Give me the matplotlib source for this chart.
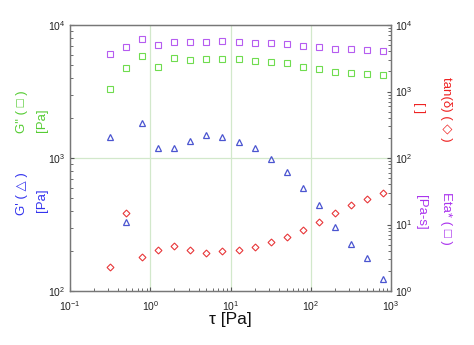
import numpy as np
import matplotlib
matplotlib.use('Agg')
import matplotlib.pyplot as plt

# shear stress tau [Pa]
tau = [0.316, 0.501, 0.794, 1.26, 2.0, 3.16, 5.01, 7.94, 12.6, 20.0,
       31.6, 50.1, 79.4, 126, 200, 316, 501, 794]

# G'' [Pa] (left axis)
g2 = [3300, 4720, 5880, 4860, 5620, 5430, 5550, 5580, 5520, 5390,
      5300, 5150, 4860, 4690, 4450, 4330, 4260, 4210]

# G' [Pa] (left axis)
g1 = [1445, 329, 1820, 1183, 1195, 1349, 1489, 1445, 1318, 1189,
      982, 785, 595, 441, 303, 224, 178, 124]

# tan(delta) [-] (right axis)
tand = [2.27, 14.7, 3.28, 4.18, 4.75, 4.14, 3.77, 3.95, 4.18, 4.63,
        5.40, 6.56, 8.18, 10.8, 14.7, 19.6, 24.2, 30.1]

# Eta* [Pa-s] (right axis)
eta = [3630, 4720, 6160, 5010, 5610, 5500, 5610, 5810, 5500, 5420,
       5310, 5130, 4890, 4620, 4400, 4310, 4210, 4110]

plt.rcParams['font.family'] = ['Liberation Sans', 'DejaVu Sans']
plt.rcParams['mathtext.default'] = 'regular'

W, H = 474, 345
fig = plt.figure(figsize=(W / 100, H / 100), dpi=100)
ax = fig.add_axes([70 / W, 1 - 291 / H, 321 / W, 266 / H])
ax2 = ax.twinx()

grid_c = '#d2e8cb'
for xv in [1, 10, 100]:
    ax.axvline(xv, color=grid_c, lw=0.9, zorder=0)
ax.axhline(1000, color=grid_c, lw=0.9, zorder=0)

ms = 3.8
ax.plot(tau, g2, 's', mfc='none', mec='#6fdc4f', mew=0.8, ms=ms)
ax.plot(tau, g1, '^', mfc='none', mec='#4b55d0', mew=0.9, ms=ms + 0.5)
ax2.plot(tau, tand, 'D', mfc='none', mec='#e8383a', mew=0.8, ms=ms - 0.3)
ax2.plot(tau, eta, 's', mfc='none', mec='#b65cf0', mew=0.8, ms=ms)

ax.set_xscale('log')
ax.set_yscale('log')
ax2.set_yscale('log')
ax.set_xlim(0.1, 1000)
ax.set_ylim(100, 10000)
ax2.set_ylim(1, 10000)

for a in (ax, ax2):
    for s in a.spines.values():
        s.set_color('#777777')
        s.set_linewidth(0.9)
    a.tick_params(which='both', direction='in', labelsize=7.5, colors='#555555',
                  labelcolor='#222222')
    a.tick_params(which='major', length=3)
    a.tick_params(which='minor', length=2)
ax.tick_params(axis='x', pad=6)
ax.tick_params(axis='y', which='both', right=False)
ax2.tick_params(axis='y', pad=3)

ax.set_xlabel('τ [Pa]', fontsize=12.5, labelpad=-1, color='#111111')

def ftext(x, y, s, c):
    fig.text(x / W, 1 - y / H, s, color=c, fontsize=9.5, rotation=90,
             ha='center', va='center')

ftext(22, 112, 'G" ( □ )', '#55cc33')
ftext(42, 120, '[Pa]', '#55cc33')
ftext(22, 194, "G' ( △ )", '#3333ee')
ftext(42, 200, '[Pa]', '#3333ee')

def rtext(x, y, s, c):
    fig.text(x / W, 1 - y / H, s, color=c, fontsize=9.5, rotation=-90,
             ha='center', va='center')

rtext(446, 109, 'tan(δ) ( ◇ )', '#ee2222')
rtext(419, 108, '[ ]', '#ee2222')
rtext(446, 218, 'Eta* ( □ )', '#aa33ee')
rtext(421, 212, '[Pa-s]', '#aa33ee')

fig.savefig('out.png', dpi=100)
